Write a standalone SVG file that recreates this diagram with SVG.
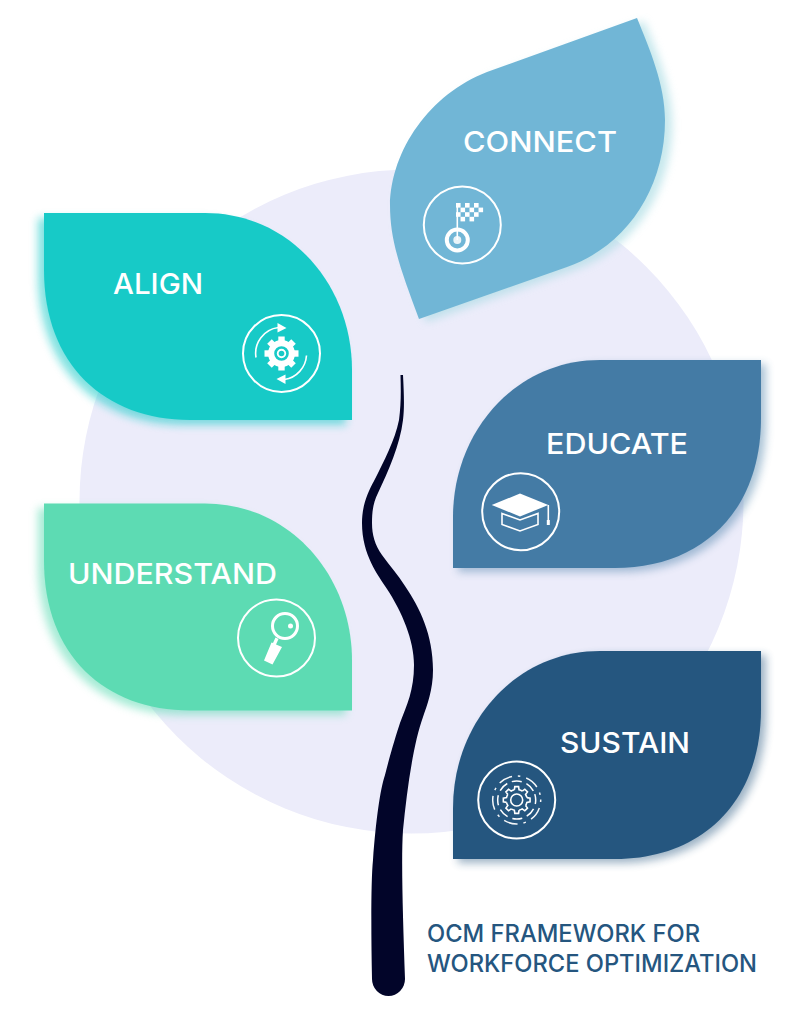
<svg xmlns="http://www.w3.org/2000/svg" width="810" height="1024" viewBox="0 0 810 1024">
<style>
text{font-family:"Inter","Liberation Sans",sans-serif}
.lab{fill:#fff;font-size:29px;font-weight:500}
.cap{fill:#25567F;font-size:24px;font-weight:500}
.ring{fill:none;stroke:#fff;stroke-width:2}
.ln{fill:none;stroke:#fff;stroke-width:1.6}
.w{fill:#fff}
.sh{filter:url(#blur)}
</style>
<defs>
<filter id="blur" x="-10%" y="-10%" width="120%" height="120%"><feGaussianBlur stdDeviation="4"/></filter>
<path id="leafL" d="M44,213H205C290,213 352,285 352,370V420H190C105,420 44,365 44,270Z"/>
<path id="leafR" d="M761,360H600C515,360 453,432 453,517V568H615C700,568 761,513 761,418Z"/>
<path id="leafC" d="M637,18L487,72C430,94 391,150 390,205C390,240 400,268 419,319L567,267C625,247 665,190 665,120C665,85 650,50 637,18Z"/>
<rect id="tooth" x="-3.2" y="-17" width="6.4" height="6"/>
<path id="gt" d="M10.2,-2.36L13.37,-1.88V1.88L10.2,2.36A10.5,10.5 0 0 1 8.9,5.56"/>
<rect id="chk" width="4.6" height="4.6"/>
</defs>
<rect width="810" height="1024" fill="#fff"/>
<circle id="backdrop" cx="411.5" cy="501.5" r="332" fill="#ECECFA"/>
<path id="stem" fill="#020529" d="M400.5,375L403,375C404,395 404.5,408 403,420C400,445 388,472 378,493C373,503 372,512 372,523C372,535 375,545 382,555C390,566 398,575 405,586C420,608 433,635 433,670C433,690 427,705 423,717C413,745 407,790 403,830C401,860 403,920 405,979A16.5,17 0 0 1 372,979C371,930 371,880 373,860C376,820 380,790 385,775C390,755 396,735 400,723C407,705 414,690 414,665C414,640 402,612 387,589C378,575 362,555 362,523C362,505 368,492 374,481C384,461 395,440 399,420C401,405 401,392 400.5,375Z"/>
<g id="align">
<use href="#leafL" class="sh" fill="#17CAC7" opacity=".55" transform="translate(-6,5)"/>
<use href="#leafL" fill="#17CAC7"/>
<text class="lab" x="113" y="294" textLength="90" lengthAdjust="spacingAndGlyphs">ALIGN</text>
<g transform="translate(281.5,353.5)">
<circle class="ring" r="38.5"/>
<g class="w"><circle r="13.5"/>
<use href="#tooth"/><use href="#tooth" transform="rotate(45)"/><use href="#tooth" transform="rotate(90)"/><use href="#tooth" transform="rotate(135)"/><use href="#tooth" transform="rotate(180)"/><use href="#tooth" transform="rotate(225)"/><use href="#tooth" transform="rotate(270)"/><use href="#tooth" transform="rotate(315)"/></g>
<circle r="6" fill="none" stroke="#17CAC7" stroke-width="2.6"/>
<circle r="2.8" fill="#17CAC7"/>
<path class="ln" d="M-25.5,4A26,26 0 0 1 -3,-26"/><path class="w" d="M-4,-30.5L5,-25.5L-4,-21Z"/>
<path class="ln" d="M25,2A26,26 0 0 1 3,26"/><path class="w" d="M4,21L-5,25.5L4,30.5Z"/>
</g>
</g>
<g id="understand">
<use href="#leafL" class="sh" fill="#5DDBB3" opacity=".55" transform="translate(-6,295)"/>
<use href="#leafL" fill="#5DDBB3" transform="translate(0,290.5)"/>
<text class="lab" x="68" y="584" textLength="209" lengthAdjust="spacingAndGlyphs">UNDERSTAND</text>
<circle class="ring" cx="276.5" cy="638" r="38.5"/>
<circle cx="285" cy="626" r="12.5" fill="none" stroke="#fff" stroke-width="3"/>
<circle class="w" cx="290.5" cy="626" r="2.5"/>
<path class="w" d="M275.5,637.5L278.5,639L276,644.5L282,647L272.5,664.5L264,660.5L271.5,642.5L273,643Z"/>
</g>
<g id="connect">
<use href="#leafC" class="sh" fill="#A9DCE3" opacity=".65" transform="translate(7,3)"/>
<use href="#leafC" fill="#71B6D6"/>
<text class="lab" x="463" y="152" textLength="154" lengthAdjust="spacingAndGlyphs">CONNECT</text>
<circle class="ring" cx="462.3" cy="225" r="38.5"/>
<circle cx="457.3" cy="240" r="10.5" fill="none" stroke="#fff" stroke-width="4"/>
<circle cx="457.3" cy="240" r="4" fill="#fff" opacity=".85"/>
<path class="ln" d="M457.3,204V240" stroke-width="1.5"/>
<g class="w" transform="translate(456,203)">
<use href="#chk"/><use href="#chk" x="9"/><use href="#chk" x="18"/>
<use href="#chk" x="4.5" y="4.6"/><use href="#chk" x="13.5" y="4.6"/><use href="#chk" x="22.5" y="4.6"/>
<use href="#chk" y="9.2"/><use href="#chk" x="9" y="9.2"/><use href="#chk" x="18" y="9.2"/>
<use href="#chk" x="4.5" y="13.8"/><use href="#chk" x="13.5" y="13.8"/>
</g>
</g>
<g id="educate">
<use href="#leafR" class="sh" fill="#447BA5" opacity=".45" transform="translate(5,4)"/>
<use href="#leafR" fill="#447BA5"/>
<text class="lab" x="546" y="454" textLength="142" lengthAdjust="spacingAndGlyphs">EDUCATE</text>
<circle class="ring" cx="520.7" cy="511.7" r="38.5"/>
<path class="w" d="M491.7,505L520,493.5L548.3,505L520,516.5Z"/>
<path class="ln" d="M502,513.5L520,520L538,513.5V524.5L520,531L502,524.5Z"/>
<path class="ln" d="M548.3,505V522"/><rect class="w" x="546.8" y="520" width="3" height="5"/>
</g>
<g id="sustain">
<use href="#leafR" class="sh" fill="#25567F" opacity=".45" transform="translate(5,295)"/>
<use href="#leafR" fill="#25567F" transform="translate(0,291)"/>
<text class="lab" x="560" y="753" textLength="130" lengthAdjust="spacingAndGlyphs">SUSTAIN</text>
<g transform="translate(516.7,800)">
<circle class="ring" r="38.5"/>
<g class="ln" stroke-width="1.5"><use href="#gt"/><use href="#gt" transform="rotate(45)"/><use href="#gt" transform="rotate(90)"/><use href="#gt" transform="rotate(135)"/><use href="#gt" transform="rotate(180)"/><use href="#gt" transform="rotate(225)"/><use href="#gt" transform="rotate(270)"/><use href="#gt" transform="rotate(315)"/></g>
<circle class="ln" r="6"/>
<circle r="19" fill="none" stroke="#fff" stroke-width="1.5" stroke-dasharray="10 5" transform="rotate(-18)"/>
<circle r="24" fill="none" stroke="#fff" stroke-width="1.5" stroke-dasharray="2.5 6 14 6 2.5 6 14 6 2.5 6 14 6 2.5 6 14 6" transform="rotate(-1)" opacity=".95"/>
</g>
</g>
<g id="caption">
<text class="cap" x="427" y="942" textLength="273" lengthAdjust="spacingAndGlyphs">OCM FRAMEWORK FOR</text>
<text class="cap" x="427" y="972" textLength="330" lengthAdjust="spacingAndGlyphs">WORKFORCE OPTIMIZATION</text>
</g>
</svg>
